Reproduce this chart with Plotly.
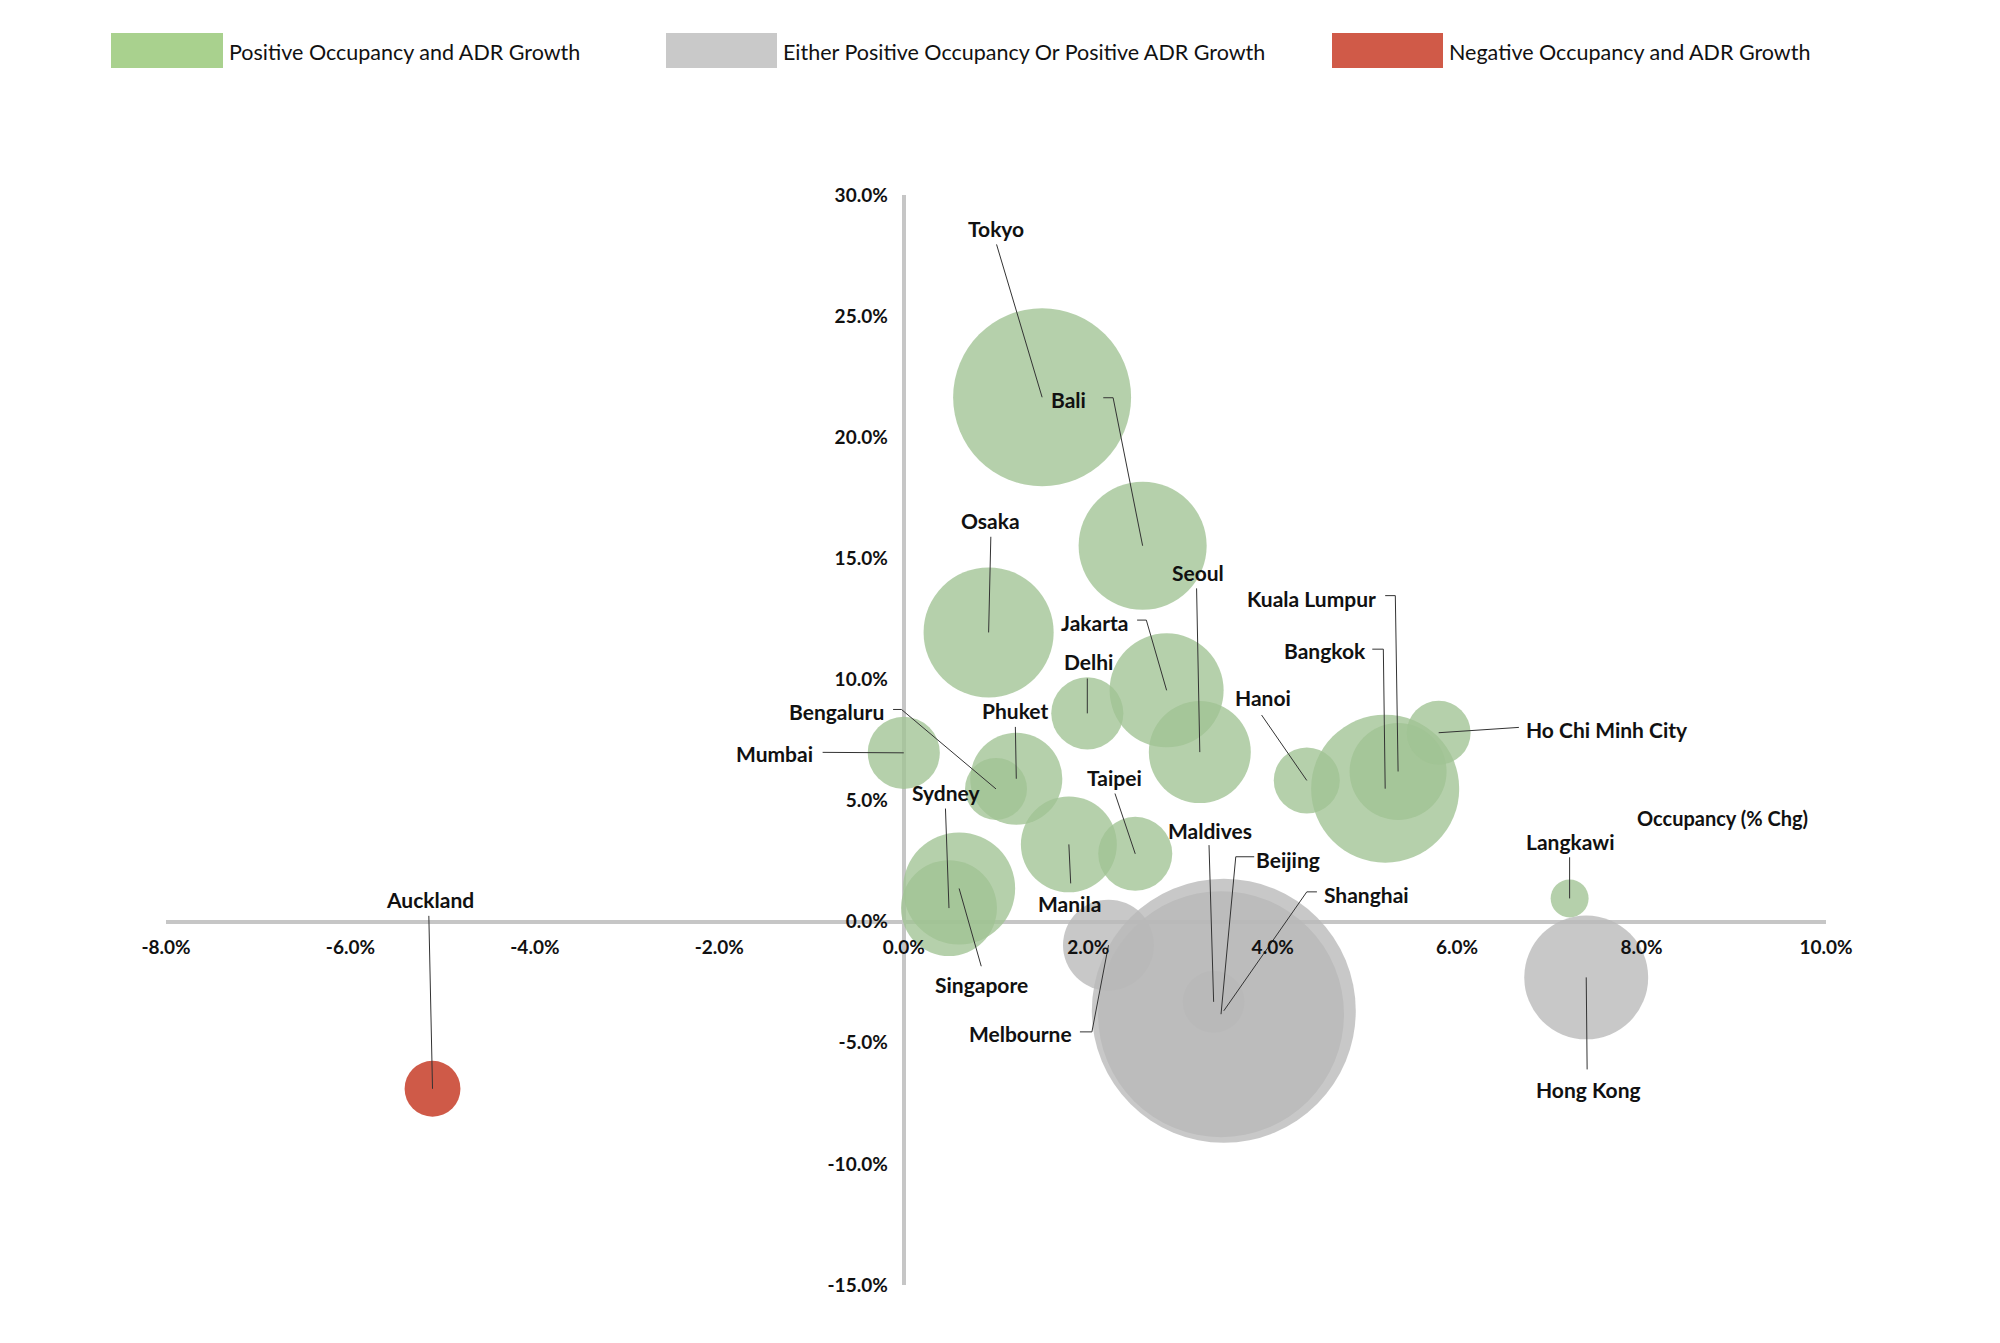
import plotly.graph_objects as go

# ---------------- data (percent change) ----------------
cities = ["Tokyo", "Bali", "Osaka", "Seoul", "Jakarta", "Delhi", "Mumbai", "Phuket",
          "Bengaluru", "Sydney", "Singapore", "Manila", "Taipei", "Hanoi", "Bangkok",
          "Kuala Lumpur", "Ho Chi Minh City", "Langkawi",
          "Hong Kong", "Melbourne", "Maldives", "Beijing", "Shanghai",
          "Auckland"]
occupancy_chg = [1.50, 2.59, 0.92, 3.21, 2.85, 1.99, 0.00, 1.22,
                 1.00, 0.49, 0.60, 1.79, 2.51, 4.37, 5.22,
                 5.36, 5.80, 7.22,
                 7.40, 2.22, 3.36, 3.44, 3.47,
                 -5.11]
adr_chg = [21.65, 15.52, 11.94, 7.00, 9.55, 8.60, 6.97, 5.90,
           5.48, 0.56, 1.37, 3.19, 2.80, 5.83, 5.49,
           6.20, 7.80, 0.96,
           -2.30, -0.97, -3.31, -3.82, -3.68,
           -6.90]
bubble_value = [79.2, 41.0, 42.3, 26.0, 32.5, 13.0, 13.0, 21.2,
                9.6, 23.0, 31.4, 23.0, 13.7, 10.9, 54.8,
                23.5, 10.2, 3.6,
                38.4, 20.7, 9.6, 151.3, 174.2,
                7.8]
category = ["pos"] * 18 + ["mixed"] * 5 + ["neg"]

# label anchor positions (data units) and leader-line bend points
label_x = [1.00, 1.79, 0.94, 3.19, 2.07, 2.00, -1.40, 1.21,
           -0.73, 0.456, 0.84, 1.80, 2.29, 3.89, 4.57,
           4.42, 7.63, 7.22,
           7.42, 1.27, 3.32, 4.17, 5.02,
           -5.14]
label_y = [28.62, 21.56, 16.56, 14.42, 12.35, 10.74, 6.95, 8.70,
           8.68, 5.32, -2.58, 0.76, 5.97, 9.24, 11.21,
           13.36, 7.95, 3.32,
           -6.93, -4.62, 3.78, 2.58, 1.12,
           0.92]
leader_bends = [
    [(1.006, 27.96)],
    [(2.163, 21.63), (2.27, 21.63)],
    [(0.944, 15.89)],
    [(3.175, 13.76)],
    [(2.53, 12.45), (2.63, 12.45)],
    [(1.99, 10.04)],
    [(-0.88, 6.99)],
    [(1.21, 8.04)],
    [(-0.116, 8.76), (-0.025, 8.76)],
    [(0.452, 4.67)],
    [(0.84, -1.84)],
    [(1.81, 1.58)],
    [(2.29, 5.29)],
    [(3.88, 8.53)],
    [(5.08, 11.25), (5.20, 11.25)],
    [(5.22, 13.46), (5.33, 13.46)],
    [(6.67, 8.02)],
    [(7.22, 2.66)],
    [(7.41, -6.10)],
    [(1.91, -4.55), (2.04, -4.55)],
    [(3.31, 3.16)],
    [(3.80, 2.68), (3.60, 2.68)],
    [(4.48, 1.23), (4.37, 1.23)],
    [(-5.15, 0.24)],
]

x_tickvals = [-8, -6, -4, -2, 0, 2, 4, 6, 8, 10]
x_ticktext = ["-8.0%", "-6.0%", "-4.0%", "-2.0%", "0.0%", "2.0%", "4.0%", "6.0%", "8.0%", "10.0%"]
y_tickvals = [-15, -10, -5, 0, 5, 10, 15, 20, 25, 30]
y_ticktext = ["-15.0%", "-10.0%", "-5.0%", "0.0%", "5.0%", "10.0%", "15.0%", "20.0%", "25.0%", "30.0%"]

legend_names = {"pos": "Positive Occupancy and ADR Growth",
                "mixed": "Either Positive Occupancy Or Positive ADR Growth",
                "neg": "Negative Occupancy and ADR Growth"}

# ---------------- styles ----------------
W, H = 2000, 1343
ML, MR, MT, MB = 166, 174, 195, 58
PW, PH = W - ML - MR, H - MT - MB
FONT = "Lato"
bubble_colors = {"pos": "rgba(160,195,148,0.78)", "mixed": "rgba(185,185,185,0.78)", "neg": "rgba(207,90,72,1)"}
legend_colors = {"pos": "#A9D18E", "mixed": "#C9C9C9", "neg": "#D05A48"}


def paper(px, py):
    return (px - ML) / PW, (H - MB - py) / PH


fig = go.Figure()

for g in ["mixed", "pos", "neg"]:
    idx = [i for i, c in enumerate(category) if c == g]
    fig.add_trace(go.Scatter(
        x=[occupancy_chg[i] for i in idx],
        y=[adr_chg[i] for i in idx],
        text=[cities[i] for i in idx],
        mode="markers",
        marker=dict(size=[bubble_value[i] for i in idx], sizemode="area", sizeref=0.005,
                    color=bubble_colors[g], opacity=1, line=dict(width=0)),
        hovertemplate="%{text}<br>Occ: %{x:.1f}%<br>ADR: %{y:.1f}%<extra></extra>",
        name=legend_names[g], showlegend=False, cliponaxis=False,
    ))

# leader lines
lx, ly = [], []
for i in range(len(cities)):
    for (bx, by) in leader_bends[i]:
        lx.append(bx)
        ly.append(by)
    lx += [occupancy_chg[i], None]
    ly += [adr_chg[i], None]
fig.add_trace(go.Scatter(x=lx, y=ly, mode="lines", line=dict(color="#333333", width=1),
                         hoverinfo="skip", showlegend=False, cliponaxis=False))

annotations = []
for i, c in enumerate(cities):
    annotations.append(dict(x=label_x[i], y=label_y[i], xref="x", yref="y", text=c,
                            showarrow=False, xanchor="center", yanchor="middle",
                            font=dict(family=FONT, size=21, color="#111111", weight="bold")))

# axis titles
annotations.append(dict(x=0.239, y=30.24, xref="x", yref="y", text="ADR (% Chg)", textangle=-90,
                        showarrow=False, xanchor="center", yanchor="middle",
                        font=dict(family=FONT, size=20, color="#111111", weight="bold")))
annotations.append(dict(x=8.88, y=4.26, xref="x", yref="y", text="Occupancy (% Chg)",
                        showarrow=False, xanchor="center", yanchor="middle",
                        font=dict(family=FONT, size=20, color="#111111", weight="bold")))

# custom legend
shapes = []
legend_boxes = {"pos": (111, 223), "mixed": (666, 777), "neg": (1332, 1443)}
for g in ["pos", "mixed", "neg"]:
    x0, x1 = legend_boxes[g]
    px0, py0 = paper(x0, 68)
    px1, py1 = paper(x1, 33)
    shapes.append(dict(type="rect", xref="paper", yref="paper", x0=px0, x1=px1, y0=py0, y1=py1,
                       fillcolor=legend_colors[g], line=dict(width=0)))
    tx, ty = paper(x1 + 4, 52)
    annotations.append(dict(x=tx, y=ty, xref="paper", yref="paper", text=legend_names[g],
                            showarrow=False, xanchor="left", yanchor="middle",
                            font=dict(family=FONT, size=21.5, color="#111111")))

fig.update_layout(
    width=W, height=H,
    margin=dict(l=ML, r=MR, t=MT, b=MB, autoexpand=False),
    paper_bgcolor="white", plot_bgcolor="white",
    showlegend=False,
    annotations=annotations, shapes=shapes,
    xaxis=dict(range=[-8, 10], showgrid=False, zeroline=True, zerolinecolor="#C6C6C6",
               zerolinewidth=4, showline=False, anchor="free", position=15 / 45,
               tickvals=x_tickvals, ticktext=x_ticktext, ticks="", ticklabelstandoff=12,
               tickfont=dict(family=FONT, size=19, color="#111111", weight="bold"),
               automargin=False, fixedrange=True),
    yaxis=dict(range=[-15, 30], showgrid=False, zeroline=True, zerolinecolor="#C6C6C6",
               zerolinewidth=4, showline=False, anchor="free", position=8 / 18,
               tickvals=y_tickvals, ticktext=y_ticktext, ticks="", ticklabelstandoff=16,
               tickfont=dict(family=FONT, size=19, color="#111111", weight="bold"),
               automargin=False, fixedrange=True),
)

fig.write_html("out.html", config={"displayModeBar": False},
               post_script="document.body.style.margin='0px';")
